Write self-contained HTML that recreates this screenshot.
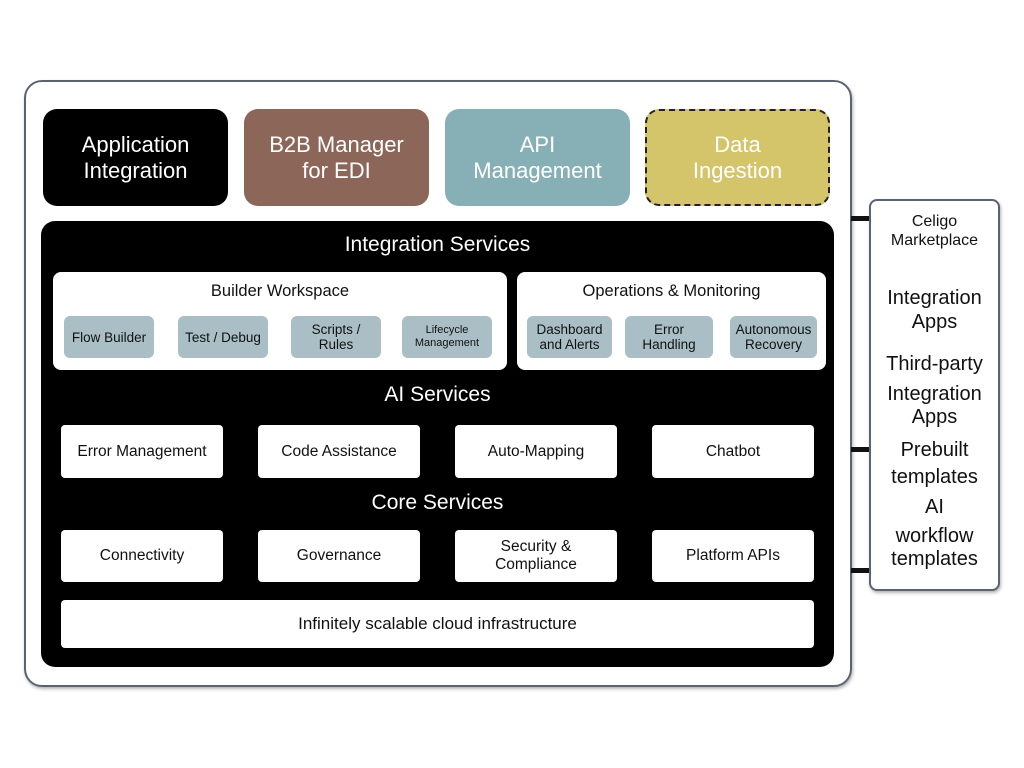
<!DOCTYPE html>
<html><head><style>
body{margin:0;width:1024px;height:768px;background:#fff;position:relative;font-family:"Liberation Sans",sans-serif;overflow:hidden}
div{position:absolute;box-sizing:border-box;display:flex;align-items:center;justify-content:center;text-align:center}
.top{top:109px;height:97px;width:185px;border-radius:14px;color:#fff;font-size:22px;line-height:26px}
.chip{top:316px;height:42px;background:#a9bfc5;border-radius:6px;font-size:13.5px;line-height:15px;color:#111}
.w{background:#fff;border-radius:4px;font-size:15.5px;color:#111;line-height:18px}
.t{color:#fff;font-size:21px;height:26px}
.ln{background:#111;height:5px;left:851px;width:19px}
.m{left:869px;width:131px;height:24px;color:#111;font-size:20px;white-space:nowrap}
</style></head><body>
<div style="left:24px;top:80px;width:828px;height:607px;border:2px solid #5a6470;border-radius:18px;box-shadow:1px 2px 3px rgba(0,0,0,.3)"></div>
<div class="top" style="left:43px;background:#000">Application<br>Integration</div>
<div class="top" style="left:244px;background:#8b6659">B2B Manager<br>for EDI</div>
<div class="top" style="left:445px;background:#86b0b5">API<br>Management</div>
<div class="top" style="left:645px;background:#d4c46a;border:2px dashed #222">Data<br>Ingestion</div>
<div style="left:41px;top:221px;width:793px;height:446px;background:#000;border-radius:14px"></div>
<div class="t" style="left:41px;top:232px;width:793px">Integration Services</div>
<div class="w" style="left:53px;top:272px;width:454px;height:98px;border-radius:8px;align-items:flex-start;padding-top:10px;font-size:16.5px">Builder Workspace</div>
<div class="w" style="left:517px;top:272px;width:309px;height:98px;border-radius:8px;align-items:flex-start;padding-top:10px;font-size:16.5px">Operations &amp; Monitoring</div>
<div class="chip" style="left:64px;width:90px">Flow Builder</div>
<div class="chip" style="left:178px;width:90px">Test / Debug</div>
<div class="chip" style="left:291px;width:90px">Scripts /<br>Rules</div>
<div class="chip" style="left:402px;width:90px;font-size:11px;line-height:13px">Lifecycle<br>Management</div>
<div class="chip" style="left:527px;width:85px">Dashboard<br>and Alerts</div>
<div class="chip" style="left:625px;width:88px">Error<br>Handling</div>
<div class="chip" style="left:730px;width:87px">Autonomous<br>Recovery</div>
<div class="t" style="left:41px;top:382px;width:793px">AI Services</div>
<div class="w" style="left:61px;top:425px;width:162px;height:53px">Error Management</div>
<div class="w" style="left:258px;top:425px;width:162px;height:53px">Code Assistance</div>
<div class="w" style="left:455px;top:425px;width:162px;height:53px">Auto-Mapping</div>
<div class="w" style="left:652px;top:425px;width:162px;height:53px">Chatbot</div>
<div class="t" style="left:41px;top:490px;width:793px">Core Services</div>
<div class="w" style="left:61px;top:530px;width:162px;height:52px">Connectivity</div>
<div class="w" style="left:258px;top:530px;width:162px;height:52px">Governance</div>
<div class="w" style="left:455px;top:530px;width:162px;height:52px">Security &amp;<br>Compliance</div>
<div class="w" style="left:652px;top:530px;width:162px;height:52px">Platform APIs</div>
<div class="w" style="left:61px;top:600px;width:753px;height:48px;font-size:17px">Infinitely scalable cloud infrastructure</div>
<div class="ln" style="top:216px"></div>
<div class="ln" style="top:447px"></div>
<div class="ln" style="top:568px"></div>
<div style="left:869px;top:199px;width:131px;height:392px;border:2px solid #5a6470;border-radius:8px;background:#fff;box-shadow:1px 2px 3px rgba(0,0,0,.3)"></div>
<div class="m" style="top:210px;font-size:16px">Celigo</div>
<div class="m" style="top:229px;font-size:16px">Marketplace</div>
<div class="m" style="top:286px">Integration</div>
<div class="m" style="top:310px">Apps</div>
<div class="m" style="top:352px">Third-party</div>
<div class="m" style="top:382px">Integration</div>
<div class="m" style="top:405px">Apps</div>
<div class="m" style="top:438px">Prebuilt</div>
<div class="m" style="top:465px">templates</div>
<div class="m" style="top:495px">AI</div>
<div class="m" style="top:524px">workflow</div>
<div class="m" style="top:547px">templates</div>
</body></html>
